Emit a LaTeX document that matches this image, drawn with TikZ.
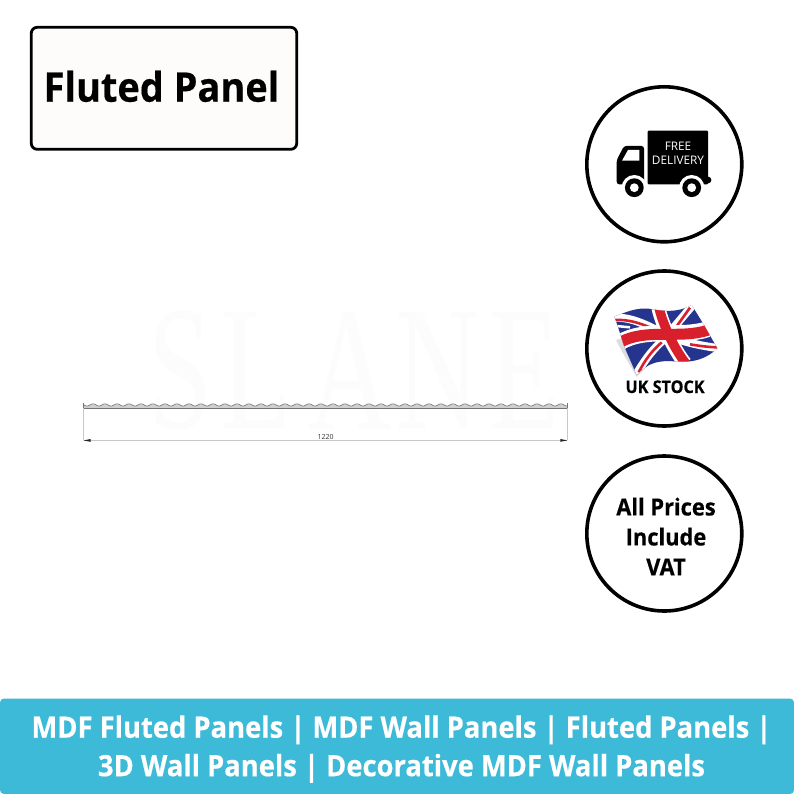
\documentclass[tikz,border=0pt]{standalone}
\usepackage{fontspec}
\setmainfont{Open Sans}[FakeStretch=0.93,BoldFeatures={FakeBold=0.4}]
\newfontfamily\plainsans{Open Sans}
\newfontfamily\wmfont{Liberation Serif}
\definecolor{bannerblue}{HTML}{3DBAD8}
\definecolor{flagblue}{HTML}{25358F}
\definecolor{flagred}{HTML}{D8202C}
\definecolor{panelgrey}{HTML}{CFCFCF}
\definecolor{dimgrey}{HTML}{C8C8C8}
\definecolor{wmark}{HTML}{FCFCFC}
\definecolor{titlefill}{HTML}{FEFCFB}
\tikzset{
  badge/.style={draw=black,line width=3.6pt,fill=white,circle,minimum size=155pt,inner sep=0pt},
  badgetext/.style={font=\bfseries\fontsize{23.5}{30}\selectfont,align=center,text=black,inner sep=0pt},
  dimline/.style={draw=dimgrey,line width=.8pt},
  tip/.style={fill=black!85,draw=none},
  wmletter/.style={text=wmark,font=\wmfont\fontsize{177}{177}\selectfont,inner sep=0pt,xscale=.65,anchor=center},
}
\begin{document}
\begin{tikzpicture}[x=1pt,y=-1pt]
\useasboundingbox (0,0) rectangle (794,794);
\fill[white] (0,0) rectangle (794,794);
% watermark
\node[wmletter] (wmS) at (180,371) {S};
\node[wmletter] (wmL) at (257,371) {L};
\node[wmletter] (wmA) at (350,371) {A};
\node[wmletter] (wmN) at (438,371) {N};
\node[wmletter] (wmE) at (525,371) {E};
% title
\node[draw=black,line width=2.8pt,rounded corners=6pt,fill=titlefill,minimum width=265.5pt,minimum height=122pt,inner sep=0pt] (title) at (164,88.3) {};
\node[font=\bfseries\fontsize{40.8}{42}\selectfont,inner sep=0pt,anchor=base] (titletext) at (161.5,101.7) {Fluted Panel};
% panel section
\fill[panelgrey] (83.3,403.3) rectangle (567.5,408.3);
\fill[white] (83.8,403) -- plot[domain=83.8:567,samples=900] (\x,{404.9+1.1*sin(30*(\x-84))}) -- (567,403) -- cycle;
\draw[black!55,line width=.6pt] plot[domain=83.8:567,samples=900] (\x,{404.9+1.1*sin(30*(\x-84))});
\draw[black!55,line width=.9pt] (83.5,403.3) -- (83.5,408.3) -- (567.4,408.3) -- (567.4,403.3);
\coordinate (pl) at (83.5,408.4);
\coordinate (pr) at (567.4,408.4);
\coordinate (dl) at (83.5,440.4);
\coordinate (dr) at (567.4,440.4);
\draw[dimline] (pl) -- (dl);
\draw[dimline] (pr) -- (dr);
\draw[dimline] (dl) -- (dr);
\fill[tip] (dl) -- (90.5,439) -- (90.5,441.8) -- cycle;
\fill[tip] (dr) -- (560.4,439) -- (560.4,441.8) -- cycle;
\node[font=\plainsans\fontsize{7}{8}\selectfont,text=black!80,inner sep=0pt] (dimtext) at (325.5,436.5) {1220};
% badges
\node[badge] (b1) at (664.3,164.3) {};
\node[badge] (b2) at (664.3,348.5) {};
\node[badge] (b3) at (664.3,533.5) {};
% truck
\fill[black,rounded corners=1pt] (647.7,130.7) rectangle (708,184.3);
\fill[black] (708,180) circle (3.4);
\fill[black,rounded corners=2.5pt] (644,146) -- (624,146) -- (616.7,160) -- (616.7,184.3) -- (644,184.3) -- cycle;
\fill[white] (628,150) -- (639.3,150) -- (639.3,160.7) -- (622,160.7) -- cycle;
\foreach \cx in {634.3,691.7}{
  \fill[white] (\cx,187.7) circle (12.7);
  \fill[black] (\cx,187.7) circle (9.4);
  \fill[white] (\cx,187.7) circle (4.4);
}
\node[text=white,font=\plainsans\fontsize{11.8}{14}\selectfont,align=center,inner sep=0pt] (free) at (678,153.5) {FREE\\DELIVERY};
% flag
\begin{scope}[shift={(580,265)},xscale=1/3,yscale=1/3]
  \fill[black!22,opacity=.6] (108,225) .. controls (125,260) and (150,300) .. (170,336) -- (215,290) -- (140,215) -- cycle;
  \begin{scope}
    \clip (103,155) .. controls (140,140) and (170,128) .. (205,131)
      .. controls (250,138) and (290,145) .. (335,120)
      -- (372,180) -- (412,250)
      .. controls (380,282) and (340,292) .. (300,290)
      .. controls (260,288) and (215,280) .. (170,330)
      -- (135,250) .. controls (128,235) and (120,200) .. (103,155) -- cycle;
    \fill[flagblue] (90,110) rectangle (420,340);
    % diagonals
    \draw[white,line width=8pt] (95,158) .. controls (150,155) and (190,175) .. (250,205);
    \draw[flagred,line width=2.6pt] (100,165) .. controls (150,162) and (185,176) .. (235,198);
    \draw[white,line width=2.5pt] (108,183) -- (150,187);
    \draw[white,line width=8pt] (340,118) -- (275,195);
    \draw[flagred,line width=2.6pt] (330,128) -- (287,188);
    \draw[white,line width=8pt] (165,335) .. controls (185,300) and (210,260) .. (250,225);
    \draw[flagred,line width=2.6pt] (176,322) .. controls (195,285) and (215,258) .. (245,232);
    \draw[white,line width=8pt] (290,222) .. controls (340,238) and (380,245) .. (420,250);
    \draw[flagred,line width=2.6pt] (330,238) .. controls (360,243) and (390,247) .. (415,247);
    % cross
    \draw[white,line width=14pt] (235,128) .. controls (247,180) and (280,250) .. (315,295);
    \draw[white,line width=16pt] (120,232) .. controls (200,185) and (300,220) .. (385,192);
    \draw[flagred,line width=11pt] (120,232) .. controls (200,188) and (300,224) .. (385,195);
    \draw[flagred,line width=9.5pt] (237,128) .. controls (249,180) and (282,250) .. (317,295);
  \end{scope}
\end{scope}
\node[font=\bfseries\fontsize{17.4}{19}\selectfont,inner sep=0pt,anchor=base] (uk) at (665,393) {UK STOCK};
\node[badgetext] (vat) at (666,536.5) {All Prices\\Include\\VAT};
% banner
\fill[bannerblue,rounded corners=4pt] (0,698.5) rectangle (794,794);
\node[text=white,font=\bfseries\fontsize{29.4}{38.5}\selectfont,align=center,inner sep=0pt,anchor=base] (bannertext) at (401.5,776.2) {MDF Fluted Panels | MDF Wall Panels | Fluted Panels |\\3D Wall Panels | Decorative MDF Wall Panels};
\end{tikzpicture}
\end{document}
